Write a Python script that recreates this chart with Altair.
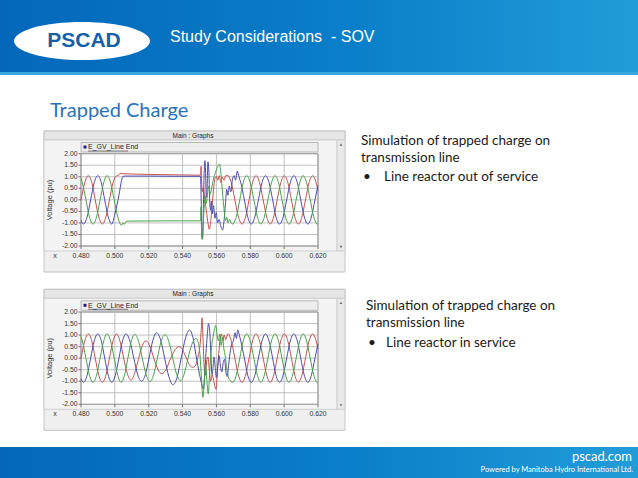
import altair as alt
import pandas as pd

# ---------------- data ----------------
X_TICKS = [0.48, 0.50, 0.52, 0.54, 0.56, 0.58, 0.60, 0.62]
X_LABELS = ["0.480", "0.500", "0.520", "0.540", "0.560", "0.580", "0.600", "0.620"]
Y_TICKS = [2.0, 1.5, 1.0, 0.5, 0.0, -0.5, -1.0, -1.5, -2.0]
Y_LABELS = ["2.00", "1.50", "1.00", "0.50", "0.00", "-0.50", "-1.00", "-1.50", "-2.00"]
PHASES = ["Phase A", "Phase B", "Phase C"]
PHASE_COLORS = ["#c4514e", "#4a4aaa", "#48a048"]

# Line reactor out of service (trapped charge)
TOP_RED = [(0.4800, -0.03), (0.4822, 0.74), (0.4843, 1.05), (0.4864, 0.74), (0.4884, 0.00), (0.4905, -0.74),
           (0.4926, -1.05), (0.4947, -0.74), (0.4968, 0.00), (0.4989, 0.74), (0.5010, 1.04), (0.5022, 1.06),
           (0.5030, 1.14), (0.5060, 1.13), (0.5100, 1.12), (0.5200, 1.10), (0.5300, 1.09), (0.5400, 1.08),
           (0.5506, 1.07), (0.5509, 1.45), (0.5512, 0.95), (0.5516, 0.35), (0.5522, 0.50), (0.5530, 0.15),
           (0.5540, -0.45), (0.5550, -1.00), (0.5558, -1.28), (0.5566, -0.95), (0.5574, -0.30), (0.5583, 0.45),
           (0.5592, 0.95), (0.5600, 1.02), (0.5608, 0.85), (0.5617, 1.05), (0.5626, 0.75), (0.5635, 0.98),
           (0.5645, 0.85), (0.5655, 1.05), (0.5668, 1.05), (0.5688, 0.74), (0.5709, 0.00), (0.5730, -0.74),
           (0.5751, -1.05), (0.5772, -0.74), (0.5793, 0.00), (0.5813, 0.74), (0.5834, 1.05), (0.5855, 0.74),
           (0.5876, 0.00), (0.5897, -0.74), (0.5918, -1.05), (0.5938, -0.74), (0.5959, 0.00), (0.5980, 0.74),
           (0.6001, 1.05), (0.6022, 0.74), (0.6043, 0.00), (0.6063, -0.74), (0.6084, -1.05), (0.6105, -0.74),
           (0.6126, 0.00), (0.6147, 0.74), (0.6168, 1.05), (0.6189, 0.74), (0.6200, 0.40)]
TOP_BLUE = [(0.4800, -0.89), (0.4815, -1.05), (0.4836, -0.74), (0.4857, 0.00), (0.4878, 0.74), (0.4899, 1.05),
            (0.4920, 0.74), (0.4940, 0.00), (0.4961, -0.74), (0.4982, -1.05), (0.5000, -0.62), (0.5024, 0.20),
            (0.5040, 0.85), (0.5048, 1.02), (0.5060, 1.03), (0.5200, 1.03), (0.5400, 1.02), (0.5506, 1.02),
            (0.5510, 0.00), (0.5514, -1.60), (0.5518, -1.68), (0.5522, -0.60), (0.5527, 1.00), (0.5532, 1.70),
            (0.5536, 1.20), (0.5540, 0.10), (0.5544, 0.30), (0.5550, 1.65), (0.5555, 1.30), (0.5560, 0.00),
            (0.5565, -0.45), (0.5570, -0.05), (0.5576, -0.60), (0.5583, -0.25), (0.5591, -0.80), (0.5599, -0.55),
            (0.5607, -1.00), (0.5616, -0.85), (0.5626, -1.15), (0.5636, -1.30), (0.5645, -0.90), (0.5653, -0.20),
            (0.5661, 0.45), (0.5668, 0.20), (0.5676, 0.60), (0.5685, 0.35), (0.5695, 0.90), (0.5705, 1.05),
            (0.5713, 0.85), (0.5723, 1.25), (0.5733, 1.00), (0.5744, 0.74), (0.5765, 0.00), (0.5785, -0.74),
            (0.5806, -1.05), (0.5827, -0.74), (0.5848, 0.00), (0.5869, 0.74), (0.5890, 1.05), (0.5911, 0.74),
            (0.5932, 0.00), (0.5952, -0.74), (0.5973, -1.05), (0.5994, -0.74), (0.6015, 0.00), (0.6036, 0.74),
            (0.6057, 1.05), (0.6078, 0.74), (0.6098, 0.00), (0.6119, -0.74), (0.6140, -1.05), (0.6161, -0.74),
            (0.6182, 0.00), (0.6200, 0.62)]
TOP_GREEN = [(0.4800, 0.94), (0.4808, 0.74), (0.4829, 0.00), (0.4850, -0.74), (0.4871, -1.05), (0.4892, -0.74),
             (0.4913, 0.00), (0.4934, 0.74), (0.4954, 1.05), (0.4975, 0.74), (0.4996, 0.00), (0.5017, -0.74),
             (0.5032, -1.05), (0.5040, -1.10), (0.5048, -1.00), (0.5055, -1.06), (0.5065, -0.95), (0.5080, -0.92),
             (0.5300, -0.91), (0.5506, -0.91), (0.5509, -0.30), (0.5512, -1.30), (0.5516, -1.72), (0.5520, -1.45),
             (0.5526, -0.50), (0.5533, 0.15), (0.5540, -0.15), (0.5548, 0.30), (0.5556, 0.60), (0.5563, 0.25),
             (0.5572, 0.50), (0.5582, 0.90), (0.5595, 1.20), (0.5608, 1.45), (0.5618, 1.55), (0.5627, 1.10),
             (0.5636, 0.30), (0.5645, -0.40), (0.5653, -0.90), (0.5661, -0.75), (0.5669, -1.00), (0.5678, -0.85),
             (0.5687, -1.00), (0.5696, -1.05), (0.5717, -0.74), (0.5738, 0.00), (0.5758, 0.74), (0.5779, 1.05),
             (0.5800, 0.74), (0.5821, 0.00), (0.5842, -0.74), (0.5862, -1.05), (0.5883, -0.74), (0.5904, 0.00),
             (0.5925, 0.74), (0.5946, 1.05), (0.5967, 0.74), (0.5987, 0.00), (0.6008, -0.74), (0.6029, -1.05),
             (0.6050, -0.74), (0.6071, 0.00), (0.6092, 0.74), (0.6112, 1.05), (0.6133, 0.74), (0.6154, 0.00),
             (0.6175, -0.74), (0.6196, -1.05), (0.6200, -1.04)]

# Line reactor in service
BOT_RED = [(0.4800, -0.03), (0.4822, 0.74), (0.4843, 1.05), (0.4864, 0.74), (0.4884, 0.00), (0.4905, -0.74),
           (0.4926, -1.05), (0.4947, -0.74), (0.4968, 0.00), (0.4989, 0.74), (0.5010, 1.05), (0.5031, 0.72),
           (0.5052, 0.00), (0.5074, -0.68), (0.5095, -0.95), (0.5117, -0.65), (0.5139, -0.05), (0.5161, 0.52),
           (0.5183, 0.75), (0.5207, 0.52), (0.5230, 0.00), (0.5254, -0.48), (0.5278, -0.68), (0.5303, -0.48),
           (0.5329, -0.02), (0.5355, 0.36), (0.5380, 0.50), (0.5400, 0.36), (0.5420, 0.04), (0.5440, -0.28),
           (0.5461, -0.40), (0.5478, -0.30), (0.5492, 0.10), (0.5503, 0.55), (0.5510, 1.20), (0.5515, 1.75),
           (0.5520, 1.00), (0.5527, -0.30), (0.5535, -0.75), (0.5542, -0.15), (0.5550, 0.05), (0.5558, -0.50),
           (0.5566, -1.00), (0.5574, -0.70), (0.5582, -0.90), (0.5590, -1.20), (0.5598, -1.35), (0.5606, -0.60),
           (0.5614, 0.20), (0.5622, 0.85), (0.5630, 1.05), (0.5638, 0.75), (0.5646, 1.00), (0.5655, 0.80),
           (0.5668, 1.05), (0.5688, 0.74), (0.5709, 0.00), (0.5730, -0.74), (0.5751, -1.05), (0.5772, -0.74),
           (0.5793, 0.00), (0.5813, 0.74), (0.5834, 1.05), (0.5855, 0.74), (0.5876, 0.00), (0.5897, -0.74),
           (0.5918, -1.05), (0.5938, -0.74), (0.5959, 0.00), (0.5980, 0.74), (0.6001, 1.05), (0.6022, 0.74),
           (0.6043, 0.00), (0.6063, -0.74), (0.6084, -1.05), (0.6105, -0.74), (0.6126, 0.00), (0.6147, 0.74),
           (0.6168, 1.05), (0.6189, 0.74), (0.6200, 0.40)]
BOT_BLUE = [(0.4800, -0.89), (0.4815, -1.05), (0.4836, -0.74), (0.4857, 0.00), (0.4878, 0.74), (0.4899, 1.05),
            (0.4920, 0.74), (0.4940, 0.00), (0.4961, -0.74), (0.4982, -1.05), (0.5003, -0.74), (0.5024, 0.00),
            (0.5045, 0.74), (0.5066, 1.05), (0.5089, 0.74), (0.5112, 0.00), (0.5135, -0.72), (0.5158, -1.00),
            (0.5180, -0.72), (0.5202, 0.00), (0.5224, 0.76), (0.5246, 1.10), (0.5270, 0.80), (0.5294, 0.00),
            (0.5319, -0.80), (0.5343, -1.15), (0.5368, -0.82), (0.5392, 0.00), (0.5417, 0.86), (0.5441, 1.22),
            (0.5461, 0.90), (0.5480, 0.10), (0.5500, -0.70), (0.5512, -1.10), (0.5522, -1.33), (0.5530, -0.80),
            (0.5538, 0.20), (0.5546, 1.00), (0.5553, 1.50), (0.5560, 1.20), (0.5567, 0.20), (0.5574, -0.70),
            (0.5580, -0.40), (0.5586, 0.05), (0.5593, -0.40), (0.5600, -0.85), (0.5608, -0.30), (0.5616, 0.10),
            (0.5624, -0.35), (0.5632, -0.60), (0.5640, -0.20), (0.5648, -0.05), (0.5656, -0.60), (0.5664, -0.80),
            (0.5672, -0.30), (0.5680, 0.20), (0.5690, 0.60), (0.5700, 0.75), (0.5710, 1.10), (0.5718, 0.85),
            (0.5726, 1.22), (0.5735, 1.00), (0.5744, 0.74), (0.5765, 0.00), (0.5785, -0.74), (0.5806, -1.05),
            (0.5827, -0.74), (0.5848, 0.00), (0.5869, 0.74), (0.5890, 1.05), (0.5911, 0.74), (0.5932, 0.00),
            (0.5952, -0.74), (0.5973, -1.05), (0.5994, -0.74), (0.6015, 0.00), (0.6036, 0.74), (0.6057, 1.05),
            (0.6078, 0.74), (0.6098, 0.00), (0.6119, -0.74), (0.6140, -1.05), (0.6161, -0.74), (0.6182, 0.00),
            (0.6200, 0.62)]
BOT_GREEN = [(0.4800, 0.94), (0.4808, 0.74), (0.4829, 0.00), (0.4850, -0.74), (0.4871, -1.05), (0.4892, -0.74),
             (0.4913, 0.00), (0.4934, 0.74), (0.4954, 1.05), (0.4975, 0.74), (0.4996, 0.00), (0.5017, -0.74),
             (0.5037, -1.05), (0.5057, -0.74), (0.5077, 0.00), (0.5097, 0.74), (0.5118, 1.03), (0.5140, 0.73),
             (0.5162, 0.00), (0.5185, -0.72), (0.5207, -1.02), (0.5229, -0.72), (0.5251, 0.00), (0.5273, 0.72),
             (0.5296, 1.02), (0.5319, 0.72), (0.5342, 0.00), (0.5365, -0.70), (0.5388, -0.98), (0.5410, -0.68),
             (0.5432, 0.00), (0.5455, 0.60), (0.5478, 0.85), (0.5492, 0.70), (0.5502, 0.20), (0.5512, -0.90),
             (0.5520, -1.70), (0.5527, -1.20), (0.5534, -0.30), (0.5540, -0.60), (0.5547, -1.30), (0.5552, -1.55),
             (0.5560, -0.60), (0.5570, 0.40), (0.5582, 1.00), (0.5596, 1.42), (0.5604, 1.00), (0.5612, 0.75),
             (0.5620, 1.05), (0.5628, 0.55), (0.5636, 0.90), (0.5644, 0.40), (0.5652, 0.10), (0.5660, -0.40),
             (0.5670, -0.80), (0.5680, -0.95), (0.5696, -1.05), (0.5717, -0.74), (0.5738, 0.00), (0.5758, 0.74),
             (0.5779, 1.05), (0.5800, 0.74), (0.5821, 0.00), (0.5842, -0.74), (0.5862, -1.05), (0.5883, -0.74),
             (0.5904, 0.00), (0.5925, 0.74), (0.5946, 1.05), (0.5967, 0.74), (0.5987, 0.00), (0.6008, -0.74),
             (0.6029, -1.05), (0.6050, -0.74), (0.6071, 0.00), (0.6092, 0.74), (0.6112, 1.05), (0.6133, 0.74),
             (0.6154, 0.00), (0.6175, -0.74), (0.6196, -1.05), (0.6200, -1.04)]

HEADER_TITLE = "Study Considerations\u00a0\u00a0- SOV"
SLIDE_TITLE = "Trapped Charge"
TOP_TEXT = ["Simulation of trapped charge on", "transmission line", "Line reactor out of service"]
BOT_TEXT = ["Simulation of trapped charge on", "transmission line", "Line reactor in service"]

# ---------------- helpers ----------------
UI = "Liberation Sans"
SLIDE = "Lato"
ONE = pd.DataFrame({"k": [0]})


def box(x1, y1, x2, y2, fill, stroke=None, sw=0):
    kw = dict(fill=fill, strokeWidth=sw)
    if stroke:
        kw["stroke"] = stroke
    return alt.Chart(ONE).mark_rect(**kw).encode(
        x=alt.value(x1), x2=alt.value(x2), y=alt.value(y1), y2=alt.value(y2))


def label(txt, x, y, size, color, font, align="left", weight="normal", angle=None):
    kw = dict(align=align, baseline="middle", fontSize=size, color=color, font=font, fontWeight=weight)
    if angle is not None:
        kw["angle"] = angle
    return alt.Chart(ONE).mark_text(**kw).encode(x=alt.value(x), y=alt.value(y), text=alt.value(txt))


def hrule(x1, x2, y, color, sw=1):
    return alt.Chart(ONE).mark_rule(color=color, strokeWidth=sw).encode(
        x=alt.value(x1), x2=alt.value(x2), y=alt.value(y))


def panel(dy, red, blue, green):
    L = []
    L.append(box(44, 131 + dy, 345, 272 + dy, "#efefef", "#c4c4c4", 1))
    L.append(box(44, 131 + dy, 345, 140 + dy, "#e6e6e6", "#c4c4c4", 1))
    L.append(label("Main : Graphs", 193, 135.8 + dy, 6.5, "#222222", UI, align="center"))
    L.append(box(44, 140 + dy, 337, 251 + dy, "#f3f3f3", "#cfcfcf", 1))
    L.append(box(337, 140 + dy, 345, 251 + dy, "#e8e8e8", "#cfcfcf", 1))
    L.append(alt.Chart(ONE).mark_point(shape="triangle-up", filled=True, size=7, color="#333333").encode(
        x=alt.value(341), y=alt.value(144.5 + dy)))
    L.append(alt.Chart(ONE).mark_point(shape="triangle-down", filled=True, size=7, color="#333333").encode(
        x=alt.value(341), y=alt.value(247 + dy)))
    # legend bar
    L.append(box(81, 142.5 + dy, 318, 152 + dy, "#ededed", "#a8a8a8", 0.8))
    L.append(box(83.5, 145.5 + dy, 86.5, 148.5 + dy, "#1c1c8c"))
    L.append(label("E_GV_Line End", 88, 147.2 + dy, 7, "#222222", UI))
    L.append(hrule(88, 128, 151 + dy, "#333333", 0.6))
    # plot area
    L.append(box(81, 153.7 + dy, 318, 246 + dy, "white", "#808080", 1))
    xs = alt.Scale(domain=[0.48, 0.62], range=[81, 318], nice=False, zero=False)
    ys = alt.Scale(domain=[-2, 2], range=[246 + dy, 153.7 + dy], nice=False, zero=False)
    xdf = pd.DataFrame({"t": X_TICKS, "lab": X_LABELS})
    ydf = pd.DataFrame({"v": Y_TICKS, "lab": Y_LABELS})
    L.append(alt.Chart(ydf).mark_rule(color="#b0b0b0", strokeWidth=0.8).encode(
        y=alt.Y("v:Q", scale=ys, axis=None), x=alt.value(81), x2=alt.value(318)))
    L.append(alt.Chart(xdf).mark_rule(color="#b0b0b0", strokeWidth=0.8).encode(
        x=alt.X("t:Q", scale=xs, axis=None), y=alt.value(153.7 + dy), y2=alt.value(246 + dy)))
    L.append(alt.Chart(ydf).mark_rule(color="#555555", strokeWidth=0.8).encode(
        y=alt.Y("v:Q", scale=ys, axis=None), x=alt.value(78.5), x2=alt.value(81)))
    L.append(alt.Chart(xdf).mark_rule(color="#555555", strokeWidth=0.8).encode(
        x=alt.X("t:Q", scale=xs, axis=None), y=alt.value(246 + dy), y2=alt.value(249 + dy)))
    L.append(alt.Chart(ydf).mark_text(align="right", baseline="middle", fontSize=6.8, font=UI, color="#333333").encode(
        y=alt.Y("v:Q", scale=ys, axis=None), x=alt.value(77.5), text="lab:N"))
    L.append(alt.Chart(xdf).mark_text(align="center", baseline="middle", fontSize=6.8, font=UI, color="#333333").encode(
        x=alt.X("t:Q", scale=xs, axis=None), y=alt.value(256 + dy), text="lab:N"))
    L.append(label("x", 55, 255.5 + dy, 7, "#333333", UI, align="center"))
    L.append(label("Voltage (pu)", 50, 200 + dy, 7.5, "#333333", UI, align="center", angle=270))
    rows = []
    for ph, ser in zip(PHASES, [red, blue, green]):
        for t, v in ser:
            rows.append({"t": t, "v": v, "phase": ph})
    df = pd.DataFrame(rows)
    L.append(alt.Chart(df).mark_line(strokeWidth=1, interpolate="monotone").encode(
        x=alt.X("t:Q", scale=xs, axis=None),
        y=alt.Y("v:Q", scale=ys, axis=None),
        color=alt.Color("phase:N", scale=alt.Scale(domain=PHASES, range=PHASE_COLORS), legend=None),
        detail="phase:N"))
    return L


# ---------------- slide ----------------
layers = []
band = {"gradient": "linear", "x1": 0, "x2": 1, "y1": 0, "y2": 0,
        "stops": [{"offset": 0, "color": "#0467ba"}, {"offset": 0.55, "color": "#0a7fc9"},
                  {"offset": 1, "color": "#229cd8"}]}
layers.append(box(0, 0, 638, 75, band))
layers.append(box(0, 72, 638, 75, "#3aa7e0"))
ellipse = ("M -1 0 C -1 -0.1546 -0.5523 -0.28 0 -0.28 C 0.5523 -0.28 1 -0.1546 1 0 "
           "C 1 0.1546 0.5523 0.28 0 0.28 C -0.5523 0.28 -1 0.1546 -1 0 Z")
layers.append(alt.Chart(ONE).mark_point(shape=ellipse, filled=True, color="white", opacity=1, size=136 * 136).encode(
    x=alt.value(82), y=alt.value(41)))
layers.append(label("PSCAD", 84, 41, 21, "#1560a8", UI, align="center", weight="bold"))
layers.append(label(HEADER_TITLE, 170, 37, 16, "white", UI))
layers.append(label(SLIDE_TITLE, 50, 111, 20, "#2a72b8", SLIDE))

layers += panel(0, TOP_RED, TOP_BLUE, TOP_GREEN)
layers += panel(158.3, BOT_RED, BOT_BLUE, BOT_GREEN)

layers.append(label(TOP_TEXT[0], 361, 141, 13.5, "#1a1a1a", SLIDE))
layers.append(label(TOP_TEXT[1], 361, 158, 13.5, "#1a1a1a", SLIDE))
layers.append(label("\u2022", 363, 177, 13.5, "#1a1a1a", SLIDE))
layers.append(label(TOP_TEXT[2], 384, 177, 13.5, "#1a1a1a", SLIDE))
layers.append(label(BOT_TEXT[0], 366, 306, 13.5, "#1a1a1a", SLIDE))
layers.append(label(BOT_TEXT[1], 366, 323, 13.5, "#1a1a1a", SLIDE))
layers.append(label("\u2022", 368, 343, 13.5, "#1a1a1a", SLIDE))
layers.append(label(BOT_TEXT[2], 386, 343, 13.5, "#1a1a1a", SLIDE))

layers.append(box(0, 447, 638, 478, band))
layers.append(label("pscad.com", 632, 457, 13, "white", SLIDE, align="right"))
layers.append(label("Powered by Manitoba Hydro International Ltd.", 633, 470, 7.5, "white", SLIDE, align="right"))

chart = alt.layer(*layers).resolve_scale(x="independent", y="independent").properties(
    width=638, height=478, autosize=alt.AutoSizeParams(type="none"), padding=0, background="white"
).configure_view(strokeWidth=0)

chart.save("out.html", embed_options={"renderer": "svg", "actions": False})
